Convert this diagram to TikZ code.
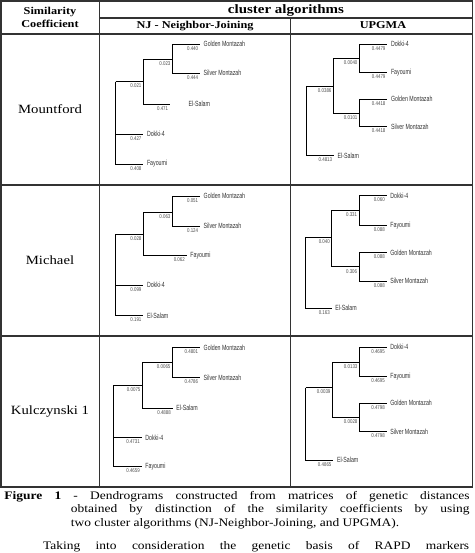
\documentclass[tikz,border=0pt]{standalone}
\usepackage{fontspec}
\setmainfont{Liberation Serif}[FakeStretch=1.17]
\newfontfamily\treefont{Liberation Sans}[FakeStretch=0.7]
\newfontfamily\lenfont{Liberation Sans}[FakeStretch=0.8]

\tikzset{
  branch/.style={line width=0.8pt},
  leaf/.style={font=\treefont\fontsize{7.5}{8}\selectfont, text=black!80, anchor=west, inner sep=0pt, xshift=3.5pt},
  len/.style={font=\lenfont\fontsize{5.5}{6}\selectfont, text=black!70, anchor=north east, inner sep=0pt, xshift=-1.5pt, yshift=-2pt},
  grid/.style={line width=1.3pt, black!80},
  head/.style={font=\bfseries\fontsize{10.5}{13}\selectfont, align=center, inner sep=0pt},
  rowname/.style={font=\fontsize{12.6}{14}\selectfont, inner sep=0pt},
  capline/.style={font=\fontsize{11.5}{13.5}\selectfont, anchor=base west, inner sep=0pt},
}

\begin{document}
\begin{tikzpicture}[x=1pt,y=-1pt]
\useasboundingbox (0,0) rectangle (474,553);

% TABLE
\draw[grid] (1,1) rectangle (472.5,487);
\draw[grid] (99.7,1) -- (99.7,487);
\draw[grid] (99.7,18) -- (472.5,18);
\draw[grid] (290.7,18) -- (290.7,487);
\draw[grid, line width=1.8pt] (1,34) -- (472.5,34);
\draw[grid] (1,185) -- (472.5,185);
\draw[grid] (1,336) -- (472.5,336);

% HEADINGS
\node[head] (simcoef) at (50,17) {Similarity\\Coefficient};
\node[head, font=\bfseries\fontsize{12.8}{14}\selectfont, anchor=base] (clusters) at (286,14) {cluster algorithms};
\node[head, anchor=base] (njhead) at (195,29) {NJ - Neighbor-Joining};
\node[head, anchor=base] (upgmahead) at (383,29) {UPGMA};

\node[rowname] (mountford) at (50,109.5) {Mountford};
\node[rowname] (michael) at (50,260) {Michael};
\node[rowname] (kulczynski) at (50,411) {Kulczynski 1};

% MOUNTFORD, NJ
\coordinate (mfnj-r)  at (115.7,81.7);
\coordinate (mfnj-n1) at (143.3,81.7);
\coordinate (mfnj-n2) at (172.3,59);
\coordinate (mfnj-gm) at (200,44.3);
\coordinate (mfnj-sm) at (200,73.3);
\coordinate (mfnj-es) at (170,104.3);
\coordinate (mfnj-dk) at (143.3,134);
\coordinate (mfnj-fa) at (143.3,164);

\draw[branch] (mfnj-r) -- (mfnj-n1) node[len] (mfnj-l1) {0.021};
\draw[branch] (mfnj-r) |- (mfnj-dk) node[len] (mfnj-l2) {0.427};
\draw[branch] (mfnj-r) |- (mfnj-fa) node[len] (mfnj-l3) {0.408};
\draw[branch] (mfnj-n1) |- (mfnj-n2) node[len] (mfnj-l4) {0.023};
\draw[branch] (mfnj-n1) |- (mfnj-es) node[len] (mfnj-l5) {0.471};
\draw[branch] (mfnj-n2) |- (mfnj-gm) node[len] (mfnj-l6) {0.440};
\draw[branch] (mfnj-n2) |- (mfnj-sm) node[len] (mfnj-l7) {0.444};

\node[leaf] (mfnj-t1) at (mfnj-gm) {Golden Montazah};
\node[leaf] (mfnj-t2) at (mfnj-sm) {Silver Montazah};
\node[leaf, xshift=15pt] (mfnj-t3) at (mfnj-es) {El-Salam};
\node[leaf] (mfnj-t4) at (mfnj-dk) {Dokki-4};
\node[leaf] (mfnj-t5) at (mfnj-fa) {Fayoumi};

% MOUNTFORD, UPGMA
\coordinate (mfup-r)  at (306.7,86);
\coordinate (mfup-n1) at (333.3,86);
\coordinate (mfup-n2) at (359.3,58);
\coordinate (mfup-n3) at (359.3,113.5);
\coordinate (mfup-dk) at (387.3,44.3);
\coordinate (mfup-fa) at (387.3,72.3);
\coordinate (mfup-gm) at (387.3,99.3);
\coordinate (mfup-sm) at (387.3,126.7);
\coordinate (mfup-es) at (334,155.7);

\draw[branch] (mfup-r) -- (mfup-n1) node[len] (mfup-l1) {0.0386};
\draw[branch] (mfup-r) |- (mfup-es) node[len] (mfup-l2) {0.4813};
\draw[branch] (mfup-n1) |- (mfup-n2) node[len] (mfup-l3) {0.0040};
\draw[branch] (mfup-n1) |- (mfup-n3) node[len] (mfup-l4) {0.0101};
\draw[branch] (mfup-n2) |- (mfup-dk) node[len] (mfup-l5) {0.4479};
\draw[branch] (mfup-n2) |- (mfup-fa) node[len] (mfup-l6) {0.4479};
\draw[branch] (mfup-n3) |- (mfup-gm) node[len] (mfup-l7) {0.4418};
\draw[branch] (mfup-n3) |- (mfup-sm) node[len] (mfup-l8) {0.4418};

\node[leaf] (mfup-t1) at (mfup-dk) {Dokki-4};
\node[leaf] (mfup-t2) at (mfup-fa) {Fayoumi};
\node[leaf] (mfup-t3) at (mfup-gm) {Golden Montazah};
\node[leaf] (mfup-t4) at (mfup-sm) {Silver Montazah};
\node[leaf] (mfup-t5) at (mfup-es) {El-Salam};

% MICHAEL, NJ
\coordinate (minj-r)  at (115.7,234);
\coordinate (minj-n1) at (143.3,234);
\coordinate (minj-n2) at (172.3,212.3);
\coordinate (minj-gm) at (200,196);
\coordinate (minj-sm) at (200,226.3);
\coordinate (minj-fa) at (186.7,255.7);
\coordinate (minj-dk) at (143.3,285);
\coordinate (minj-es) at (143.3,315.7);

\draw[branch] (minj-r) -- (minj-n1) node[len] (minj-l1) {0.028};
\draw[branch] (minj-r) |- (minj-dk) node[len] (minj-l2) {0.099};
\draw[branch] (minj-r) |- (minj-es) node[len] (minj-l3) {0.191};
\draw[branch] (minj-n1) |- (minj-n2) node[len] (minj-l4) {0.063};
\draw[branch] (minj-n1) |- (minj-fa) node[len] (minj-l5) {0.062};
\draw[branch] (minj-n2) |- (minj-gm) node[len] (minj-l6) {0.051};
\draw[branch] (minj-n2) |- (minj-sm) node[len] (minj-l7) {0.124};

\node[leaf] (minj-t1) at (minj-gm) {Golden Montazah};
\node[leaf] (minj-t2) at (minj-sm) {Silver Montazah};
\node[leaf] (minj-t3) at (minj-fa) {Fayoumi};
\node[leaf] (minj-t4) at (minj-dk) {Dokki-4};
\node[leaf] (minj-t5) at (minj-es) {El-Salam};

% MICHAEL, UPGMA
\coordinate (miup-r)  at (305,237.3);
\coordinate (miup-n1) at (331.7,237.3);
\coordinate (miup-n2) at (359,210.7);
\coordinate (miup-n3) at (359,266.8);
\coordinate (miup-dk) at (386.7,195.7);
\coordinate (miup-fa) at (386.7,225.7);
\coordinate (miup-gm) at (386.7,252.7);
\coordinate (miup-sm) at (386.7,281);
\coordinate (miup-es) at (331.7,308.3);

\draw[branch] (miup-r) -- (miup-n1) node[len] (miup-l1) {0.040};
\draw[branch] (miup-r) |- (miup-es) node[len] (miup-l2) {0.163};
\draw[branch] (miup-n1) |- (miup-n2) node[len] (miup-l3) {0.331};
\draw[branch] (miup-n1) |- (miup-n3) node[len] (miup-l4) {0.306};
\draw[branch] (miup-n2) |- (miup-dk) node[len] (miup-l5) {0.060};
\draw[branch] (miup-n2) |- (miup-fa) node[len] (miup-l6) {0.088};
\draw[branch] (miup-n3) |- (miup-gm) node[len] (miup-l7) {0.088};
\draw[branch] (miup-n3) |- (miup-sm) node[len] (miup-l8) {0.088};

\node[leaf] (miup-t1) at (miup-dk) {Dokki-4};
\node[leaf] (miup-t2) at (miup-fa) {Fayoumi};
\node[leaf] (miup-t3) at (miup-gm) {Golden Montazah};
\node[leaf] (miup-t4) at (miup-sm) {Silver Montazah};
\node[leaf] (miup-t5) at (miup-es) {El-Salam};

% KULCZYNSKI 1, NJ
\coordinate (kunj-r)  at (113.3,385);
\coordinate (kunj-n1) at (142.3,385);
\coordinate (kunj-n2) at (172.3,362.7);
\coordinate (kunj-gm) at (200,347.7);
\coordinate (kunj-sm) at (200,377.7);
\coordinate (kunj-es) at (172.7,408.3);
\coordinate (kunj-dk) at (141.7,437.7);
\coordinate (kunj-fa) at (141.7,466.7);

\draw[branch] (kunj-r) -- (kunj-n1) node[len] (kunj-l1) {0.0075};
\draw[branch] (kunj-r) |- (kunj-dk) node[len] (kunj-l2) {0.4731};
\draw[branch] (kunj-r) |- (kunj-fa) node[len] (kunj-l3) {0.4659};
\draw[branch] (kunj-n1) |- (kunj-n2) node[len] (kunj-l4) {0.0065};
\draw[branch] (kunj-n1) |- (kunj-es) node[len] (kunj-l5) {0.4888};
\draw[branch] (kunj-n2) |- (kunj-gm) node[len] (kunj-l6) {0.4801};
\draw[branch] (kunj-n2) |- (kunj-sm) node[len] (kunj-l7) {0.4786};

\node[leaf] (kunj-t1) at (kunj-gm) {Golden Montazah};
\node[leaf] (kunj-t2) at (kunj-sm) {Silver Montazah};
\node[leaf] (kunj-t3) at (kunj-es) {El-Salam};
\node[leaf] (kunj-t4) at (kunj-dk) {Dokki-4};
\node[leaf] (kunj-t5) at (kunj-fa) {Fayoumi};

% KULCZYNSKI 1, UPGMA
\coordinate (kuup-r)  at (305.7,387.7);
\coordinate (kuup-n1) at (332.3,387.7);
\coordinate (kuup-n2) at (359.3,362);
\coordinate (kuup-n3) at (359.3,417.5);
\coordinate (kuup-dk) at (386.7,347.3);
\coordinate (kuup-fa) at (386.7,376.7);
\coordinate (kuup-gm) at (386.7,403.3);
\coordinate (kuup-sm) at (386.7,431.7);
\coordinate (kuup-es) at (333.3,460.3);

\draw[branch] (kuup-r) -- (kuup-n1) node[len] (kuup-l1) {0.0039};
\draw[branch] (kuup-r) |- (kuup-es) node[len] (kuup-l2) {0.4865};
\draw[branch] (kuup-n1) |- (kuup-n2) node[len] (kuup-l3) {0.0133};
\draw[branch] (kuup-n1) |- (kuup-n3) node[len] (kuup-l4) {0.0028};
\draw[branch] (kuup-n2) |- (kuup-dk) node[len] (kuup-l5) {0.4695};
\draw[branch] (kuup-n2) |- (kuup-fa) node[len] (kuup-l6) {0.4695};
\draw[branch] (kuup-n3) |- (kuup-gm) node[len] (kuup-l7) {0.4798};
\draw[branch] (kuup-n3) |- (kuup-sm) node[len] (kuup-l8) {0.4798};

\node[leaf] (kuup-t1) at (kuup-dk) {Dokki-4};
\node[leaf] (kuup-t2) at (kuup-fa) {Fayoumi};
\node[leaf] (kuup-t3) at (kuup-gm) {Golden Montazah};
\node[leaf] (kuup-t4) at (kuup-sm) {Silver Montazah};
\node[leaf] (kuup-t5) at (kuup-es) {El-Salam};

% CAPTION
\node[capline] (cap1) at (4.3,499) {\makebox[465pt][s]{\textbf{Figure 1} - Dendrograms constructed from matrices of genetic distances}};
\node[capline] (cap2) at (70.7,512.5) {\makebox[398.6pt][s]{obtained by distinction of the similarity coefficients by using}};
\node[capline] (cap3) at (70.7,526) {two cluster algorithms (NJ-Neighbor-Joining, and UPGMA).};
\node[capline] (cap4) at (43,549) {\makebox[426pt][s]{Taking into consideration the genetic basis of RAPD markers}};

\end{tikzpicture}
\end{document}
